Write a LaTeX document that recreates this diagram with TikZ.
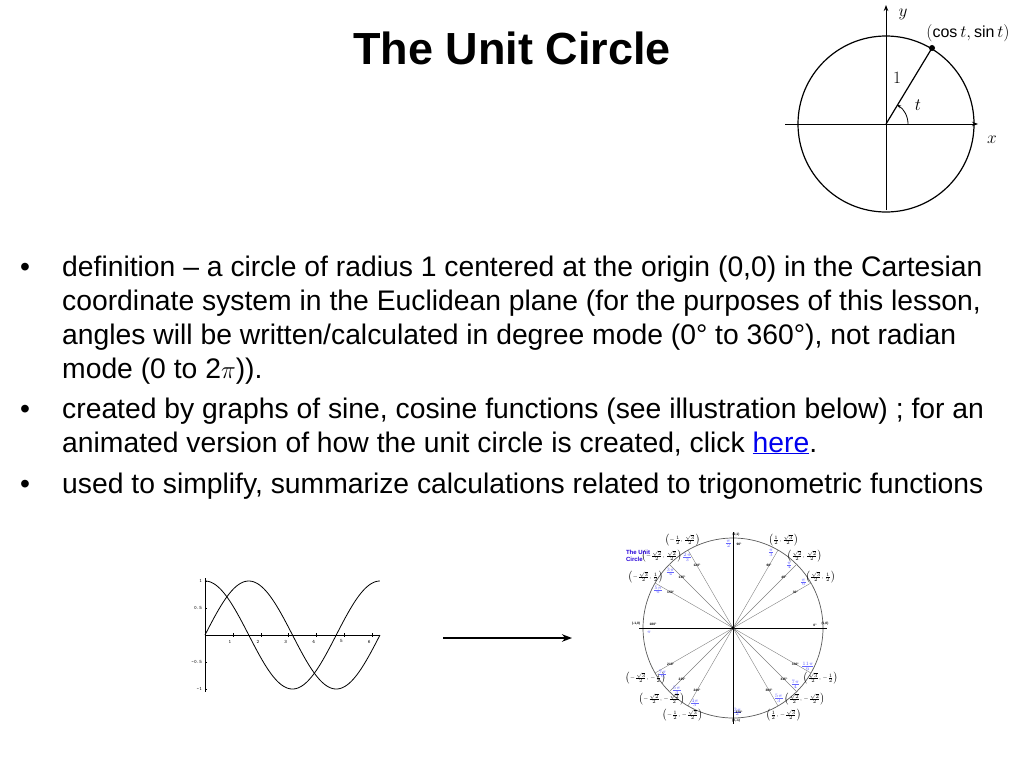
\documentclass[tikz,border=0pt]{standalone}
\usepackage{fontspec}
\setmainfont{Liberation Sans}
\usetikzlibrary{arrows.meta}
\begin{document}
\begin{tikzpicture}[x=1pt,y=-1pt,
  body/.style={anchor=base west,inner sep=0pt,font=\fontsize{28.3}{32}\selectfont},
  tiny/.style={inner sep=0pt,font=\fontsize{3.2}{3.6}\selectfont},
  ax/.style={line width=0.9pt}]
\useasboundingbox (0,0) rectangle (1024,768);
\node[font=\fontsize{45}{50}\bfseries] (title) at (512,48) {The Unit Circle};
% big unit circle
\coordinate (O) at (886,124);
\draw[line width=1.2pt] (O) circle (88);
\coordinate (xe) at (978,124); \coordinate (ye) at (886,5);
\draw[ax,-{Stealth[length=6pt]}] (785,124) -- (xe);
\draw[ax,-{Stealth[length=6pt]}] (886,210) -- (ye);
\coordinate (P) at (932,48);
\draw[line width=1.2pt] (O) -- (P);
\fill (P) circle (3);
\node[font=\fontsize{17}{20}\selectfont\rmfamily] (ly) at (903,14) {$y$};
\node[font=\fontsize{17}{20}\selectfont\rmfamily] (lx) at (992,140) {$x$};
\node[font=\fontsize{16}{20}\selectfont\rmfamily] (lp) at (968,33) {$(\mathrm{cos}\,t,\mathrm{sin}\,t)$};
\node[font=\fontsize{16}{20}\selectfont\rmfamily] (l1) at (897,78) {$1$};
\node[font=\fontsize{17}{20}\selectfont\rmfamily] (lt) at (918,105) {$t$};
\draw[line width=0.8pt,-{Stealth[length=4pt]}] (908,124) arc[start angle=0,end angle=-60,radius=22];
% bullets
\foreach \y in {276,418,493} \node[body] at (20,\y) {•};
\node[body] (b1) at (62,276) {definition – a circle of radius 1 centered at the origin (0,0) in the Cartesian};
\node[body] (b2) at (62,310) {coordinate system in the Euclidean plane (for the purposes of this lesson,};
\node[body] (b3) at (62,344) {angles will be written/calculated in degree mode (0° to 360°), not radian};
\node[body] (b4) at (62,378) {mode (0 to 2$\pi$)).};
\node[body] (b5) at (62,418) {created by graphs of sine, cosine functions (see illustration below) ; for an};
\node[body] (b6) at (62,452) {animated version of how the unit circle is created, click {\color[RGB]{0,0,238}\underline{here}}.};
\node[body] (b7) at (62,493) {used to simplify, summarize calculations related to trigonometric functions};
% sine graph
\begin{scope}[shift={(205,635)},x=27.85pt,y=54pt]
\draw[line width=0.6pt] (0,0) -- (6.3,0);
\draw[line width=0.6pt] (0,-1.05) -- (0,1.05);
\foreach \i in {1,...,6}{\draw[line width=0.4pt] (\i,0.03) -- (\i,-0.03); \node[tiny,font=\fontsize{5}{6}\selectfont\ttfamily] at (\i-0.1,-0.12) {\i};}
\foreach \v/\t in {1/1,0.5/0.5,-0.5/-0.5,-1/-1}{\draw[line width=0.4pt] (0,\v) -- (0.06,\v); \node[tiny,anchor=east,font=\fontsize{5}{6}\selectfont\ttfamily] at (-0.1,\v) {\t};}
\draw[line width=0.8pt,domain=0:6.283,samples=120,smooth] plot (\x,{sin(\x r)});
\draw[line width=0.8pt,domain=0:6.283,samples=120,smooth] plot (\x,{cos(\x r)});
\end{scope}
% arrow
\coordinate (a1) at (443,638); \coordinate (a2) at (572,638);
\draw[line width=2pt,-{Stealth[length=10pt]}] (a1) -- (a2);
% small unit circle
\begin{scope}[shift={(733,628)}]
\draw[line width=0.7pt,gray!70!black] (0,0) circle (90);
\draw[line width=0.8pt] (-94,0) -- (94,0);
\draw[line width=0.8pt] (0,-96) -- (0,96);
\foreach \a/\c in {30/{$\left(\frac{\sqrt3}{2},\frac12\right)$},45/{$\left(\frac{\sqrt2}{2},\frac{\sqrt2}{2}\right)$},60/{$\left(\frac12,\frac{\sqrt3}{2}\right)$},120/{$\left(-\frac12,\frac{\sqrt3}{2}\right)$},135/{$\left(-\frac{\sqrt2}{2},\frac{\sqrt2}{2}\right)$},150/{$\left(-\frac{\sqrt3}{2},\frac12\right)$},210/{$\left(-\frac{\sqrt3}{2},-\frac12\right)$},225/{$\left(-\frac{\sqrt2}{2},-\frac{\sqrt2}{2}\right)$},240/{$\left(-\frac12,-\frac{\sqrt3}{2}\right)$},300/{$\left(\frac12,-\frac{\sqrt3}{2}\right)$},315/{$\left(\frac{\sqrt2}{2},-\frac{\sqrt2}{2}\right)$},330/{$\left(\frac{\sqrt3}{2},-\frac12\right)$}}{
  \draw[line width=0.4pt,gray] (0,0) -- ({90*cos(\a)},{-90*sin(\a)});
  \node[tiny,font=\fontsize{3.3}{4}\selectfont\bfseries] at ({72*cos(\a)},{-72*sin(\a)}) {\a°};
  \node[tiny,font=\fontsize{3.4}{4}\selectfont\rmfamily] at ({101*cos(\a)},{-101*sin(\a)}) {\c};
}
\foreach \a/\r in {30/{$\frac{\pi}{6}$},45/{$\frac{\pi}{4}$},60/{$\frac{\pi}{3}$},90/{$\frac{\pi}{2}$},120/{$\frac{2\pi}{3}$},135/{$\frac{3\pi}{4}$},150/{$\frac{5\pi}{6}$},180/{$\pi$},210/{$\frac{7\pi}{6}$},225/{$\frac{5\pi}{4}$},240/{$\frac{4\pi}{3}$},270/{$\frac{3\pi}{2}$},300/{$\frac{5\pi}{3}$},315/{$\frac{7\pi}{4}$},330/{$\frac{11\pi}{6}$}}
  \node[tiny,text=blue!60,font=\fontsize{4.5}{5}\selectfont\rmfamily] at ({84*cos(\a+3)},{-84*sin(\a+3)}) {\r};
\fill (0,0) circle (1.8);
\node[tiny,font=\fontsize{3.3}{4}\selectfont\bfseries] at (6,-84) {90°};
\node[tiny,font=\fontsize{3.3}{4}\selectfont\bfseries] at (-80,-4) {180°};
\node[tiny,font=\fontsize{3.3}{4}\selectfont\bfseries] at (6,84) {270°};
\node[tiny,font=\fontsize{3.3}{4}\selectfont\bfseries] at (82,-3) {0°};
\node[tiny,font=\fontsize{3.3}{4}\selectfont\bfseries] at (3,-93) {(0,1)};
\node[tiny,font=\fontsize{3.3}{4}\selectfont\bfseries] at (3,93) {(0,-1)};
\node[tiny,font=\fontsize{3.3}{4}\selectfont\bfseries] at (-97,-4) {(-1,0)};
\node[tiny,font=\fontsize{3.3}{4}\selectfont\bfseries] at (92,-4) {(1,0)};
\end{scope}
\node[font=\fontsize{6}{7}\bfseries,text=blue!70!violet,align=left,inner sep=0pt] (uct) at (638,556) {The Unit\\Circle};
\end{tikzpicture}
\end{document}
